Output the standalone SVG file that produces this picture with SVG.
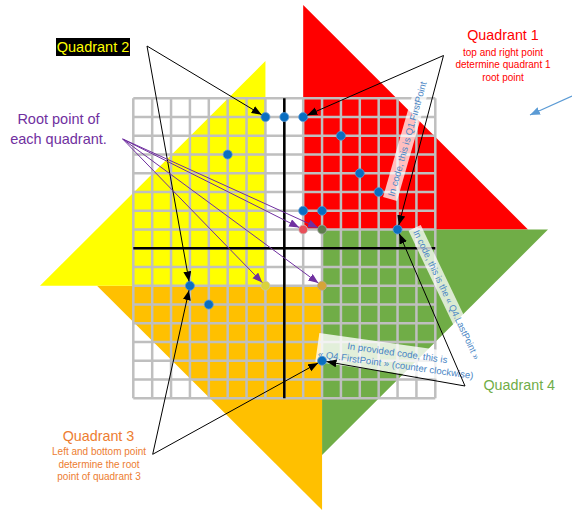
<svg xmlns="http://www.w3.org/2000/svg" width="572" height="520" viewBox="0 0 572 520">
<defs>
<style>
.grid{fill:none;stroke:#BFBFBF;stroke-width:2.5}
.axis{fill:none;stroke:#000;stroke-width:2.5}
.dot{fill:#0A6EC0;stroke:#5B9BD5;stroke-width:0.8}
.blk{fill:none;stroke:#000;stroke-width:1;marker-end:url(#ab)}
.pur{fill:none;stroke:#7030A0;stroke-width:1;marker-end:url(#ap)}
.blu{fill:none;stroke:#5B9BD5;stroke-width:1.2;marker-end:url(#abl)}
text{font-family:"Liberation Sans",Arial,sans-serif}
.note{font-size:9.5px;fill:#4A86C5}
</style>
<marker id="ab" markerUnits="userSpaceOnUse" markerWidth="11" markerHeight="9" refX="10" refY="4" orient="auto"><path d="M0,0 L10,4 L0,8 z" fill="#000"/></marker>
<marker id="ap" markerUnits="userSpaceOnUse" markerWidth="11" markerHeight="9" refX="10" refY="4" orient="auto"><path d="M0,0 L10,4 L0,8 z" fill="#7030A0"/></marker>
<marker id="abl" markerUnits="userSpaceOnUse" markerWidth="11" markerHeight="9" refX="10" refY="4" orient="auto"><path d="M0,0 L10,4 L0,8 z" fill="#5B9BD5"/></marker>
</defs>
<rect width="572" height="520" fill="#fff"/>
<g id="triangles">
<polygon id="tri-q1" points="303.18,5 303.18,229.55 528,229.55" fill="#FF0000"/>
<polygon id="tri-q4" points="322.05,229.55 548,229.55 322.05,455" fill="#70AD47"/>
<polygon id="tri-q3" points="322.05,285.8 322.05,510 97,285.8" fill="#FFC000"/>
<polygon id="tri-q2" points="265.43,285.8 40,285.8 265.43,61" fill="#FFFF00"/>
</g>
<g id="grid">
<path class="grid" d="M133.3 98.3V398.3M152.18 98.3V398.3M171.05 98.3V398.3M189.93 98.3V398.3M208.8 98.3V398.3M227.68 98.3V398.3M246.55 98.3V398.3M265.43 98.3V398.3M284.3 98.3V398.3M303.18 98.3V398.3M322.05 98.3V398.3M340.93 98.3V398.3M359.8 98.3V398.3M378.68 98.3V398.3M397.55 98.3V398.3M416.43 98.3V398.3M435.3 98.3V398.3
M133.3 98.3H435.3M133.3 117.05H435.3M133.3 135.8H435.3M133.3 154.55H435.3M133.3 173.3H435.3M133.3 192.05H435.3M133.3 210.8H435.3M133.3 229.55H435.3M133.3 248.3H435.3M133.3 267.05H435.3M133.3 285.8H435.3M133.3 304.55H435.3M133.3 323.3H435.3M133.3 342.05H435.3M133.3 360.8H435.3M133.3 379.55H435.3M133.3 398.3H435.3"/>
<path class="axis" d="M133.3 248.3H435.3M284.3 98.3V398.3"/>
</g>
<g id="notes">
<g id="note-q1first" transform="translate(394,197) rotate(-74)">
<rect x="-3" y="-10.5" width="125" height="14.5" fill="#fff" opacity="0.75"/>
<text class="note" x="0" y="0" textLength="119" lengthAdjust="spacingAndGlyphs">In code, this is Q1.FirstPoint</text>
</g>
<g id="note-q4first" transform="translate(317,357) rotate(8)">
<rect x="-1" y="-24" width="162" height="29" fill="#fff" opacity="0.8"/>
<text class="note" x="79" y="-12" text-anchor="middle" textLength="101" lengthAdjust="spacingAndGlyphs">In provided code, this is</text>
<text class="note" x="79" y="0" text-anchor="middle" textLength="157" lengthAdjust="spacingAndGlyphs">« Q4.FirstPoint » (counter clockwise)</text>
</g>
<g id="note-q4last" transform="translate(413,232) rotate(64.5)">
<rect x="-3" y="-10" width="148" height="13.5" fill="#fff" opacity="0.75"/>
<text class="note" x="0" y="0" textLength="142" lengthAdjust="spacingAndGlyphs">In code, this is the « Q4.LastPoint »</text>
</g>
</g>
<g id="dots">
<circle class="dot" cx="265.43" cy="117.05" r="4.5"/>
<circle class="dot" cx="284.3" cy="117.05" r="4.5"/>
<circle class="dot" cx="303.18" cy="117.05" r="4.5"/>
<circle class="dot" cx="227.68" cy="154.55" r="4.5"/>
<circle class="dot" cx="340.93" cy="135.8" r="4.5"/>
<circle class="dot" cx="359.8" cy="173.3" r="4.5"/>
<circle class="dot" cx="378.68" cy="192.05" r="4.5"/>
<circle class="dot" cx="303.18" cy="210.8" r="4.5"/>
<circle class="dot" cx="322.05" cy="210.8" r="4.5"/>
<circle class="dot" cx="397.55" cy="229.55" r="4.5"/>
<circle class="dot" cx="189.93" cy="285.8" r="4.5"/>
<circle class="dot" cx="208.8" cy="304.55" r="4.5"/>
<circle class="dot" cx="322.05" cy="360.8" r="4.5"/>
<circle cx="303.18" cy="229.55" r="4.5" fill="#E8505A" stroke="#C9C9C9" stroke-width="0.8"/>
<circle cx="322.05" cy="229.55" r="4.5" fill="#5E7E4C" stroke="#A9A9A9" stroke-width="0.8"/>
<circle cx="265.43" cy="285.8" r="4.5" fill="#D9D23C" stroke="#C9C9A9" stroke-width="0.8"/>
<circle cx="322.05" cy="285.8" r="4.5" fill="#D6A537" stroke="#B9A98C" stroke-width="0.8"/>
</g>
<g id="connectors">
<path class="blk" d="M147 46L261.6 114.7"/>
<path class="blk" d="M147 46L189.1 281.4"/>
<path class="blk" d="M443.5 55.5L307.3 115.2"/>
<path class="blk" d="M443.5 55.5L398.7 225.2"/>
<path class="blk" d="M465 386L399.3 233.7"/>
<path class="blk" d="M465 386L326.5 361.6"/>
<path class="blk" d="M152.7 454.3L189 290.2"/>
<path class="blk" d="M152.7 454.3L318.1 363"/>
<path class="pur" d="M122.7 139L299.2 227.5"/>
<path class="pur" d="M122.7 139L318 227.7"/>
<path class="pur" d="M122.7 139L262.3 282.6"/>
<path class="pur" d="M122.7 139L318.4 283.1"/>
<path class="blu" d="M572 96L530 115"/>
</g>
<g id="label-q2">
<rect x="56" y="38" width="74" height="18" fill="#000"/>
<text x="93" y="51.5" text-anchor="middle" font-size="14.5" fill="#FFFF00">Quadrant 2</text>
</g>
<g id="label-q1" fill="#FF0000" text-anchor="middle">
<text x="503" y="39.5" font-size="14.3">Quadrant 1</text>
<text x="503" y="55.5" font-size="10">top and right point</text>
<text x="503" y="68" font-size="10">determine quadrant 1</text>
<text x="503" y="80.5" font-size="10">root point</text>
</g>
<g id="label-root" fill="#7030A0" text-anchor="middle" font-size="14.5">
<text x="58.5" y="123.8">Root point of</text>
<text x="58.5" y="143.5">each quadrant.</text>
</g>
<g id="label-q3" fill="#ED7D31" text-anchor="middle">
<text x="98.5" y="440.5" font-size="14.3">Quadrant 3</text>
<text x="99" y="455" font-size="10">Left and bottom point</text>
<text x="99" y="467.5" font-size="10">determine the root</text>
<text x="99" y="479.5" font-size="10">point of quadrant 3</text>
</g>
<g id="label-q4">
<text x="483.5" y="390" font-size="14.3" fill="#70AD47">Quadrant 4</text>
</g>
</svg>
